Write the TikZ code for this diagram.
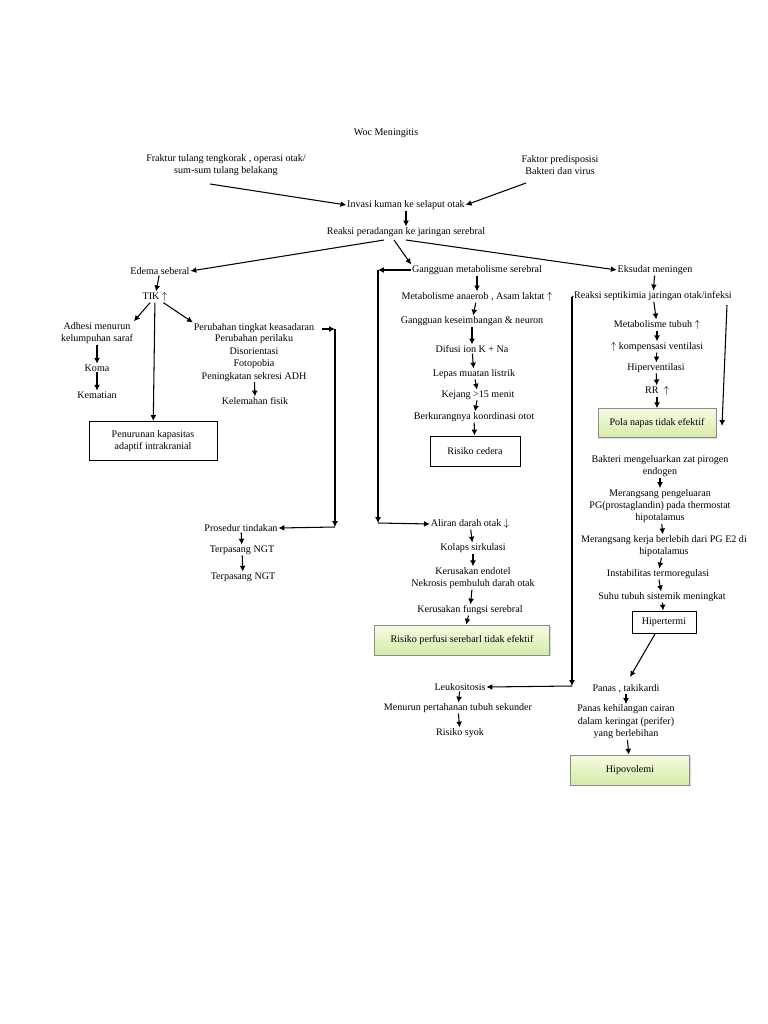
\documentclass[tikz,border=0pt]{standalone}
\usepackage{fontspec}
\setmainfont{Liberation Serif}
\usepackage{tikz}
\usetikzlibrary{arrows,arrows.meta,shapes,shadows}
\definecolor{paleGreen}{RGB}{246,251,228}
\definecolor{leafGreen}{RGB}{214,235,168}
\tikzstyle{txt}=[inner sep=0.6pt,align=center,font=\fontsize{8.6}{10.6}\selectfont]
\tikzstyle{box}=[txt,draw,line width=0.8pt]
\tikzstyle{green box}=[txt,draw=black!45,line width=0.6pt,top color=paleGreen,bottom color=leafGreen,drop shadow={shadow xshift=1.2pt,shadow yshift=-1.2pt,fill=black!30}]
\tikzstyle{edge} = [draw,line width=0.9pt,-{Latex[length=5pt,width=5pt]}]
\tikzstyle{line} = [draw,line width=0.9pt,-]

\begin{document}
\begin{tikzpicture}[x=0.03cm,y=-0.03cm]
        \useasboundingbox (0,0) rectangle (768,1024);
        \node[txt] (title) at (386,133) {Woc Meningitis};
        % top
        \node[txt] (fraktur) at (226,165) {Fraktur tulang tengkorak , operasi otak/\\sum-sum tulang belakang};
        \node[txt] (faktor) at (560,165) {Faktor predisposisi\\Bakteri dan virus};
        \node[txt] (invasi) at (406,205) {Invasi kuman ke selaput otak};
        \node[txt] (reaksi) at (406,232) {Reaksi peradangan ke jaringan serebral};
        \coordinate (f1) at (210,184);
        \coordinate (f2) at (526,183);
        \draw[edge] (f1) to (invasi.west);
        \draw[edge] (f2) to (invasi.east);
        \draw[edge] (invasi) to (reaksi);
        % left branch
        \node[txt] (edema) at (160,271) {Edema seberal};
        \node[txt] (tik) at (155,297) {TIK $\uparrow$};
        \node[txt] (adhesi) at (97,333) {Adhesi menurun\\kelumpuhan saraf};
        \node[txt] (koma) at (97,368) {Koma};
        \node[txt] (kematian) at (97,395) {Kematian};
        \node[box,minimum width=3.84cm,minimum height=1.17cm] (penurunan) at (153,441) {Penurunan kapasitas\\adaptif intrakranial};
        \node[txt] (perubahan) at (254,328) {Perubahan tingkat keasadaran};
        \node[txt] (gejala) at (254,358) {Perubahan perilaku\\Disorientasi\\Fotopobia\\Peningkatan sekresi ADH};
        \node[txt] (kelemahan) at (255,401) {Kelemahan fisik};
        \node[txt] (prosedur) at (241,528) {Prosedur tindakan};
        \node[txt] (ngt1) at (242,550) {Terpasang NGT};
        \node[txt] (ngt2) at (243,577) {Terpasang NGT};
        \coordinate (r1) at (384,240);
        \coordinate (p0) at (322,329);
        \coordinate (p1) at (335,329);
        \coordinate (p2) at (335,527);
        \draw[edge] (r1) to (edema.east);
        \draw[edge] (edema) to (tik);
        \draw[edge] (tik) to (adhesi.north east);
        \draw[edge] (tik) to (penurunan);
        \draw[edge] (tik) to (perubahan.north west);
        \draw[edge] (adhesi) to (koma);
        \draw[edge] (koma) to (kematian);
        \draw[edge] (gejala) to (kelemahan);
        \draw[edge] (p0) to (p1);
        \draw[edge] (p1) to (p2);
        \draw[edge] (p2) to (prosedur.east);
        \draw[edge] (prosedur) to (ngt1);
        \draw[edge] (ngt1) to (ngt2);
        % middle branch
        \node[txt] (gangguan) at (477,270) {Gangguan metabolisme serebral};
        \node[txt] (anaerob) at (477,297) {Metabolisme anaerob , Asam laktat $\uparrow$};
        \node[txt] (keseimbangan) at (472,321) {Gangguan keseimbangan \& neuron};
        \node[txt] (difusi) at (472,349) {Difusi ion K + Na};
        \node[txt] (lepas) at (474,374) {Lepas muatan listrik};
        \node[txt] (kejang) at (478,395) {Kejang >15 menit};
        \node[txt] (koordinasi) at (474,417) {Berkurangnya koordinasi otot};
        \node[box,minimum width=2.7cm,minimum height=0.9cm] (cedera) at (475,451) {Risiko cedera};
        \node[txt] (aliran) at (470,524) {Aliran darah otak $\downarrow$};
        \node[txt] (kolaps) at (473,548) {Kolaps sirkulasi};
        \node[txt] (endotel) at (473,578) {Kerusakan endotel\\Nekrosis pembuluh darah otak};
        \node[txt] (fungsi) at (470,610) {Kerusakan fungsi serebral};
        \node[green box,minimum width=5.25cm,minimum height=0.9cm] (perfusi) at (462,640) {Risiko perfusi serebarl tidak efektif};
        \coordinate (r2) at (394,240);
        \coordinate (g1) at (378,270);
        \coordinate (g2) at (378,523);
        \draw[edge] (r2) to (gangguan.north west);
        \draw[edge] (gangguan.west) to (g1);
        \draw[edge] (g1) to (g2);
        \draw[edge] (g2) to (aliran.west);
        \draw[edge] (gangguan) to (anaerob);
        \draw[edge] (anaerob) to (keseimbangan);
        \draw[edge] (keseimbangan) to (difusi);
        \draw[edge] (difusi) to (lepas);
        \draw[edge] (lepas) to (kejang);
        \draw[edge] (kejang) to (koordinasi);
        \draw[edge] (koordinasi) to (cedera);
        \draw[edge] (aliran) to (kolaps);
        \draw[edge] (kolaps) to (endotel);
        \draw[edge] (endotel) to (fungsi);
        \draw[edge] (fungsi) to (perfusi);
        % right branch
        \node[txt] (eksudat) at (655,270) {Eksudat meningen};
        \node[txt] (septik) at (653,296) {Reaksi septikimia jaringan otak/infeksi};
        \node[txt] (mettubuh) at (657,325) {Metabolisme tubuh $\uparrow$};
        \node[txt] (ventilasi) at (657,347) {$\uparrow$ kompensasi ventilasi};
        \node[txt] (hiper) at (656,368) {Hiperventilasi};
        \node[txt] (rr) at (657,391) {RR \ $\uparrow$};
        \node[green box,minimum width=3.54cm,minimum height=0.87cm] (pola) at (657,423) {Pola napas tidak efektif};
        \node[txt] (bakteri) at (660,466) {Bakteri mengeluarkan zat pirogen\\endogen};
        \node[txt] (prosta) at (660,506) {Merangsang pengeluaran\\PG(prostaglandin) pada thermostat\\hipotalamus};
        \node[txt] (pge) at (664,546) {Merangsang kerja berlebih dari PG E2 di\\hipotalamus};
        \node[txt] (instab) at (658,574) {Instabilitas termoregulasi};
        \node[txt] (suhu) at (662,597) {Suhu tubuh sistemik meningkat};
        \node[box,minimum width=1.92cm,minimum height=0.66cm] (hipertermi) at (664,622) {Hipertermi};
        \node[txt] (panas) at (626,689) {Panas , takikardi};
        \node[txt] (cairan) at (626,722) {Panas kehilangan cairan\\dalam keringat (perifer)\\yang berlebihan};
        \node[green box,minimum width=3.57cm,minimum height=0.9cm] (hipovolemi) at (630,770) {Hipovolemi};
        \node[txt] (leuko) at (460,687) {Leukositosis};
        \node[txt] (pertahanan) at (458,708) {Menurun pertahanan tubuh sekunder};
        \node[txt] (syok) at (460,733) {Risiko syok};
        \coordinate (r3) at (406,240);
        \coordinate (s1) at (727,305);
        \coordinate (s2) at (722,426);
        \coordinate (l1) at (572,297);
        \coordinate (l2) at (572,686);
        \coordinate (h1) at (655,634);
        \coordinate (h2) at (630,677);
        \draw[edge] (r3) to (eksudat.west);
        \draw[edge] (eksudat) to (septik);
        \draw[edge] (septik) to (mettubuh);
        \draw[edge] (mettubuh) to (ventilasi);
        \draw[edge] (ventilasi) to (hiper);
        \draw[edge] (hiper) to (rr);
        \draw[edge] (rr) to (pola);
        \draw[edge] (s1) to (s2);
        \draw[edge] (bakteri) to (prosta);
        \draw[edge] (prosta) to (pge);
        \draw[edge] (pge) to (instab);
        \draw[edge] (instab) to (suhu);
        \draw[edge] (suhu) to (hipertermi);
        \draw[edge] (h1) to (h2);
        \draw[edge] (panas) to (cairan);
        \draw[edge] (cairan) to (hipovolemi);
        \draw[line] (l1) to (septik.west);
        \draw[edge] (l1) to (l2);
        \draw[edge] (l2) to (leuko.east);
        \draw[edge] (leuko) to (pertahanan);
        \draw[edge] (pertahanan) to (syok);
      \end{tikzpicture}
\end{document}
